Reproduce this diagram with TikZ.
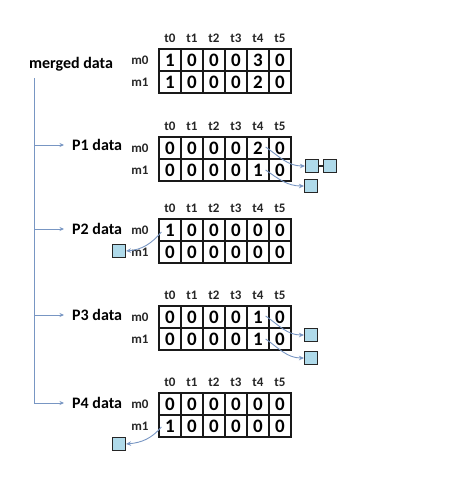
\documentclass[tikz,border=0pt]{standalone}
\usepackage{fontspec}
\setmainfont{Carlito}
\usetikzlibrary{arrows.meta,calc}
\definecolor{linec}{RGB}{120,150,195}
\definecolor{sqfill}{RGB}{175,218,234}
\tikzset{
 cell/.style={draw=black!90, line width=1.3pt, minimum width=22pt, minimum height=22pt, inner sep=0pt, font=\fontsize{19}{19}\selectfont\bfseries},
 hdr/.style={font=\fontsize{13}{13}\selectfont\bfseries, inner sep=0pt, text=black!85},
 lbl/.style={font=\fontsize{16}{16}\selectfont\bfseries, inner sep=0pt, anchor=west},
 sq/.style={draw=black!85, fill=sqfill, line width=1.1pt, minimum size=13pt, inner sep=0pt},
 branch/.style={draw=linec, line width=0.9pt, -{Stealth[length=4.5pt,width=4pt]}},
 tail/.style={draw=linec, line width=0.9pt, -{Stealth[length=5pt,width=4.5pt]}},
}
\newcommand\dtable[4]{%
 \foreach \v [count=\c from 0] in {#3} { \node[cell] (#1-0-\c) at ({170+22*\c}, {-(#2+11)}) {\v}; }
 \foreach \v [count=\c from 0] in {#4} { \node[cell] (#1-1-\c) at ({170+22*\c}, {-(#2+33)}) {\v}; }
 \foreach \c in {0,...,5} { \node[hdr] (#1-h\c) at ({170+22*\c}, {-(#2-11)}) {t\c}; }
 \node[hdr] (#1-m0) at (140, {-(#2+11)}) {m0};
 \node[hdr] (#1-m1) at (140, {-(#2+33)}) {m1};
}
\begin{document}
\begin{tikzpicture}[x=1pt,y=1pt]
\useasboundingbox (0,0) rectangle (474,-480);
% tables
\dtable{M}{49}{1,0,0,0,3,0}{1,0,0,0,2,0}
\dtable{P1}{137}{0,0,0,0,2,0}{0,0,0,0,1,0}
\dtable{P2}{219}{1,0,0,0,0,0}{0,0,0,0,0,0}
\dtable{P3}{306}{0,0,0,0,1,0}{0,0,0,0,1,0}
\dtable{P4}{393}{0,0,0,0,0,0}{1,0,0,0,0,0}
% labels
\node[lbl, anchor=center] (mg) at (71,-64) {merged data};
\node[lbl] (p1) at (72,-145) {P1 data};
\node[lbl] (p2) at (72,-229) {P2 data};
\node[lbl] (p3) at (72,-315) {P3 data};
\node[lbl] (p4) at (72,-403) {P4 data};
% tree
\coordinate (vtop) at (34,-78);
\draw[branch] (vtop |- p1.west) -- ([xshift=-8pt]p1.west);
\draw[branch] (vtop |- p2.west) -- ([xshift=-8pt]p2.west);
\draw[branch] (vtop |- p3.west) -- ([xshift=-8pt]p3.west);
\draw[branch] (vtop) |- ([xshift=-8pt]p4.west);
% squares
\node[sq] (s1a) at (312,-166) {};
\node[sq] (s1b) at (330,-166) {};
\node[sq] (s1c) at (311,-186) {};
\node[sq] (s2) at (119,-251) {};
\node[sq] (s3a) at (311,-335) {};
\node[sq] (s3b) at (311,-358) {};
\node[sq] (s4) at (119,-444) {};
\draw[draw=black!85, line width=1.1pt] (s1a.east) -- (s1b.west);
% moving arrows
\draw[tail] ([xshift=-4pt,yshift=1pt]P1-0-4.east) to[out=-35,in=180] (s1a.west);
\draw[tail] ([xshift=-4pt,yshift=0pt]P1-1-4.east) to[out=-35,in=180] (s1c.west);
\draw[tail] ([xshift=-4pt,yshift=1pt]P3-0-4.east) to[out=-35,in=180] (s3a.west);
\draw[tail] ([xshift=-4pt,yshift=0pt]P3-1-4.east) to[out=-35,in=180] (s3b.west);
\draw[tail] ([xshift=3pt,yshift=-2pt]P2-0-0.west) to[out=-130,in=5] (s2.east);
\draw[tail] ([xshift=3pt,yshift=-1pt]P4-1-0.west) to[out=-130,in=5] (s4.east);
\end{tikzpicture}
\end{document}
